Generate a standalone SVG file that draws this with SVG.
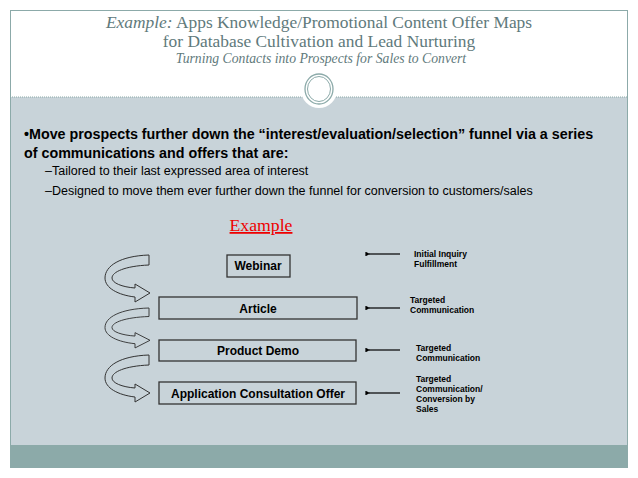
<svg xmlns="http://www.w3.org/2000/svg" width="638" height="478" viewBox="0 0 638 478">
<style>
.t{font-family:"Liberation Serif",serif;fill:#5f7a7c}
.b{font-family:"Liberation Sans",Arial,sans-serif;fill:#000}
.box{fill:#c8d3d9;stroke:#333;stroke-width:1.3}
.nl{font-family:"Liberation Sans",Arial,sans-serif;font-weight:bold;font-size:12px;text-anchor:middle}
.lab{font-family:"Liberation Sans",Arial,sans-serif;font-weight:bold;font-size:8.5px}
.cu{fill:#c8d3d9;stroke:#333;stroke-width:1}
</style>
<defs>
<marker id="ah" markerWidth="4" markerHeight="4" refX="1" refY="2" orient="auto"><path d="M4,0 L0,2 L4,4 Z" fill="#000"/></marker>
<path id="cv" d="M149,255 L149,265 C125,266 112,272 112,278 C112,283 122,287 135,288 L135,284 L150,293 L135,302 L135,297 C118,295 105,288 105,278 C105,266 120,256 149,255 Z"/>
</defs>
<rect width="638" height="478" fill="#fff"/>
<rect x="10" y="97" width="618" height="350" fill="#c8d3d9"/>
<rect x="10" y="445" width="618" height="23" fill="#8caaa9"/>
<rect x="10.5" y="10.5" width="617" height="457" fill="none" stroke="#8caaa9"/>
<line x1="10" y1="97" x2="628" y2="97" stroke="#8caaa9" stroke-dasharray="1,1"/>
<circle cx="319" cy="90" r="18" fill="#fff"/>
<ellipse cx="319" cy="89" rx="14" ry="15" fill="none" stroke="#8caaa9" stroke-width="1.3"/>
<ellipse cx="319" cy="89" rx="11.5" ry="12.5" fill="none" stroke="#8caaa9" stroke-width="1"/>
<text class="t" x="319" y="28" font-size="17.4" text-anchor="middle"><tspan font-style="italic">Example:</tspan> Apps Knowledge/Promotional Content Offer Maps</text>
<text class="t" x="319" y="47" font-size="17.4" text-anchor="middle">for Database Cultivation and Lead Nurturing</text>
<text class="t" x="321" y="63" font-size="13.7" font-style="italic" text-anchor="middle">Turning Contacts into Prospects for Sales to Convert</text>
<text class="b" x="24" y="139" font-size="14.3" font-weight="bold">•Move prospects further down the “interest/evaluation/selection” funnel via a series</text>
<text class="b" x="24" y="158" font-size="14.3" font-weight="bold">of  communications and offers that are:</text>
<text class="b" x="45" y="175" font-size="12.5">–Tailored to their last expressed area of interest</text>
<text class="b" x="45" y="195" font-size="12.5">–Designed to move them ever further down the funnel for conversion to customers/sales</text>
<text x="261" y="231" font-family="Liberation Serif,serif" font-size="17.7" fill="#e00" text-anchor="middle" text-decoration="underline">Example</text>
<g id="webinar"><rect class="box" x="227" y="255" width="63" height="22"/><text class="nl" x="258" y="270">Webinar</text></g>
<g id="article"><rect class="box" x="159" y="297" width="198" height="22"/><text class="nl" x="258" y="313">Article</text></g>
<g id="demo"><rect class="box" x="159" y="340" width="197" height="21"/><text class="nl" x="258" y="355">Product Demo</text></g>
<g id="offer"><rect class="box" x="159" y="382" width="197" height="22"/><text class="nl" x="258" y="398">Application Consultation Offer</text></g>
<g id="curves">
<use href="#cv" class="cu"/>
<use href="#cv" class="cu" transform="translate(0,308) scale(1,0.85) translate(0,-255)"/>
<use href="#cv" class="cu" transform="translate(0,355) scale(1,1) translate(0,-255)"/>
</g>
<g id="connectors" stroke="#000" stroke-width="1.2">
<line x1="400" y1="254" x2="369" y2="254" marker-end="url(#ah)"/>
<line x1="400" y1="308" x2="369" y2="308" marker-end="url(#ah)"/>
<line x1="400" y1="350" x2="369" y2="350" marker-end="url(#ah)"/>
<line x1="400" y1="393" x2="369" y2="393" marker-end="url(#ah)"/>
</g>
<g id="labels">
<text class="lab" x="414" y="257">Initial Inquiry</text><text class="lab" x="414" y="267">Fulfillment</text>
<text class="lab" x="410" y="303">Targeted</text><text class="lab" x="410" y="313">Communication</text>
<text class="lab" x="416" y="351">Targeted</text><text class="lab" x="416" y="361">Communication</text>
<text class="lab" x="416" y="382">Targeted</text><text class="lab" x="416" y="392">Communication/</text><text class="lab" x="416" y="402">Conversion by</text><text class="lab" x="416" y="412">Sales</text>
</g>
</svg>
